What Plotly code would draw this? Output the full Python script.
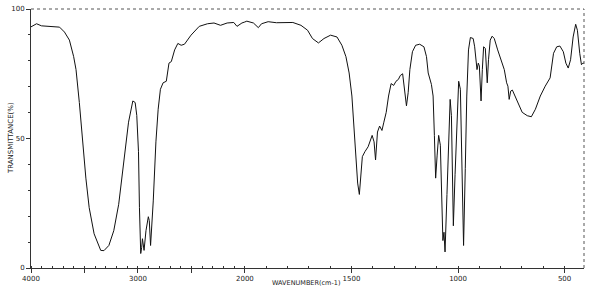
import plotly.graph_objects as go

# Wavenumber (cm-1) and transmittance (%)
wavenumber = [
    4000, 3948, 3902, 3779, 3733, 3687, 3641, 3601, 3579, 3548, 3518, 3487, 3456, 3410,
    3348, 3318, 3272, 3226, 3180, 3134, 3088, 3048, 3026, 3011, 2995, 2986, 2974, 2965,
    2958, 2943, 2925, 2903, 2894, 2882, 2857, 2832, 2811, 2790, 2765, 2735, 2710, 2688,
    2657, 2627, 2596, 2565, 2504, 2427, 2350, 2289, 2228, 2166, 2104, 2074, 2028, 2000,
    1991, 1960, 1937, 1922, 1891, 1852, 1806, 1775, 1737, 1706, 1683, 1655, 1629, 1598,
    1568, 1545, 1526, 1511, 1498, 1488, 1478, 1471, 1463, 1455, 1449, 1437, 1422, 1403,
    1394, 1387, 1378, 1368, 1357, 1348, 1337, 1326, 1314, 1302, 1291, 1280, 1271, 1260,
    1252, 1242, 1234, 1226, 1214, 1199, 1180, 1160, 1148, 1140, 1125, 1117, 1111, 1105,
    1098, 1091, 1083, 1075, 1071, 1066, 1061, 1052, 1043, 1037, 1031, 1025, 1022, 1014,
    1006, 997, 989, 982, 974, 966, 959, 951, 942, 929, 922, 911, 905, 900, 892, 886,
    880, 872, 868, 863, 857, 849, 840, 830, 814, 799, 783, 772, 766, 760, 753, 745,
    730, 714, 699, 675, 656, 637, 614, 591, 568, 552, 537, 522, 506, 494, 483, 472,
    460, 448, 440, 429, 421, 414, 409,
]
transmittance = [
    93.1, 94.3, 93.5, 93.3, 93.0, 91.1, 88.0, 81.6, 76.6, 63.9, 48.7, 34.7, 23.3, 13.2,
    6.8, 6.7, 8.7, 14.4, 24.6, 41.1, 56.3, 64.5, 63.9, 58.9, 44.9, 23.3, 5.6, 8.0,
    11.3, 6.8, 14.4, 19.8, 18.3, 8.7, 25.9, 48.7, 61.3, 69.0, 71.5, 72.1, 79.1, 79.7,
    84.2, 86.7, 86.0, 86.4, 89.9, 93.3, 94.3, 94.6, 93.7, 94.6, 94.8, 93.3, 94.6, 95.0,
    95.3, 94.6, 92.8, 94.3, 95.1, 94.7, 94.9, 94.8, 93.7, 91.8, 88.6, 86.9, 88.6, 89.9,
    89.2, 86.0, 81.6, 75.3, 66.4, 53.7, 42.3, 32.8, 28.4, 36.0, 43.0, 44.9, 46.8, 51.2,
    48.7, 41.7, 52.5, 54.8, 53.1, 56.3, 60.1, 66.4, 71.2, 70.5, 72.1, 72.8, 74.3, 75.0,
    69.6, 62.6, 67.7, 76.6, 83.5, 86.0, 86.4, 85.4, 81.6, 75.3, 70.9, 66.4, 51.2, 34.7,
    43.6, 51.2, 47.4, 14.4, 10.6, 13.8, 6.2, 28.4, 53.7, 65.1, 58.8, 30.9, 16.3, 36.0,
    55.0, 72.1, 69.0, 44.9, 8.7, 38.5, 66.4, 84.2, 89.0, 88.6, 85.4, 76.6, 79.1, 78.0, 64.5, 76.6,
    85.4, 84.8, 79.7, 71.5, 80.4, 88.0, 89.5, 88.6, 84.2, 80.4, 76.6, 71.5, 70.2, 65.1, 68.3, 68.7,
    65.8, 62.6, 60.1, 58.8, 58.4, 61.3, 66.4, 70.2, 73.4, 82.9, 85.4, 85.7, 83.5, 79.1, 77.2, 80.4,
    89.2, 94.1, 91.8, 82.9, 78.5, 79.1, 79.1,
]

hi_ticks = [4000, 3500, 3000, 2500, 2000]
hi_text = ["4000", "", "3000", "", "2000"]
lo_ticks = [1500, 1000, 500]
lo_text = ["1500", "1000", "500"]
y_ticks = [0, 50, 100]

hi_x = [w for w in wavenumber if w >= 2000]
hi_y = [t for w, t in zip(wavenumber, transmittance) if w >= 2000]
lo_x = [w for w in wavenumber if w <= 2000]
lo_y = [t for w, t in zip(wavenumber, transmittance) if w <= 2000]

FONT = "DejaVu Sans"
split = 217 / 561

fig = go.Figure()
line = dict(color="#111111", width=1)
fig.add_trace(go.Scatter(x=hi_x, y=hi_y, mode="lines", line=line, xaxis="x", yaxis="y",
                         showlegend=False, hoverinfo="skip"))
fig.add_trace(go.Scatter(x=lo_x, y=lo_y, mode="lines", line=line, xaxis="x2", yaxis="y",
                         showlegend=False, hoverinfo="skip"))

axis_common = dict(showgrid=False, zeroline=False, showline=True, linecolor="#333333",
                   linewidth=1, ticks="outside", ticklen=4, tickcolor="#333333",
                   tickfont=dict(family=FONT, size=7, color="#222222"))

fig.update_layout(
    width=598, height=291,
    margin=dict(l=31, r=6, t=5, b=23),
    paper_bgcolor="white", plot_bgcolor="white",
    xaxis=dict(domain=[0, split], range=[4000, 2000], tickmode="array",
               tickvals=hi_ticks, ticktext=hi_text, anchor="y",
               minor=dict(dtick=100, tick0=0, ticks="inside", ticklen=2, tickcolor="#333333"),
               **axis_common),
    xaxis2=dict(domain=[split, 1], range=[2000, 409], tickmode="array",
                tickvals=lo_ticks, ticktext=lo_text, anchor="y",
                minor=dict(dtick=100, tick0=0, ticks="inside", ticklen=2, tickcolor="#333333"),
                **axis_common),
    yaxis=dict(range=[0, 100], tickmode="array", tickvals=y_ticks,
               minor=dict(dtick=10, tick0=0, ticks="outside", ticklen=2, tickcolor="#333333"),
               anchor="x", **axis_common),
    shapes=[
        dict(type="line", xref="paper", yref="paper", x0=0, x1=1, y0=1, y1=1,
             line=dict(color="#555555", width=1, dash="dot")),
        dict(type="line", xref="paper", yref="paper", x0=1, x1=1, y0=0, y1=1,
             line=dict(color="#555555", width=1, dash="dot")),
    ],
    annotations=[
        dict(text="TRANSMITTANCE(%)", xref="paper", yref="paper", x=-0.037, y=0.5,
             textangle=-90, showarrow=False, xanchor="center", yanchor="middle",
             font=dict(family=FONT, size=7, color="#222222")),
        dict(text="WAVENUMBER(cm-1)", xref="paper", yref="paper", x=0.497, y=-0.058,
             showarrow=False, xanchor="center", yanchor="middle",
             font=dict(family=FONT, size=6.5, color="#222222")),
    ],
)

fig.write_html("out.html")
